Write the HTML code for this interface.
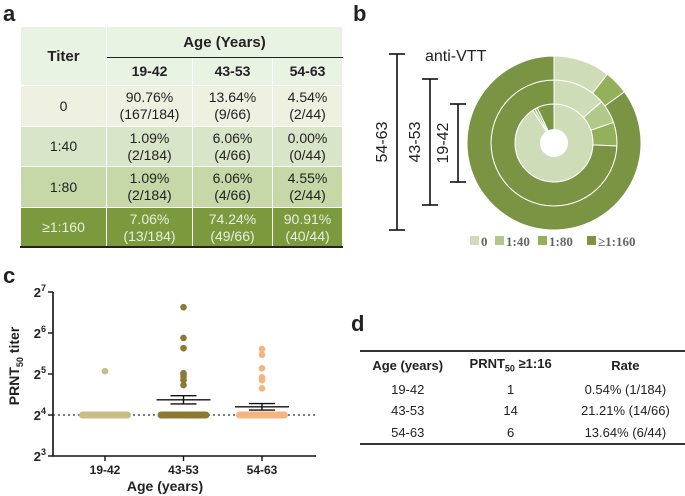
<!DOCTYPE html>
<html><head><meta charset="utf-8">
<style>
body{margin:0;width:685px;height:496px;background:#fff;position:relative;overflow:hidden;font-family:"Liberation Sans",Arial,sans-serif;color:#222}
.lbl{position:absolute;font-weight:bold;font-size:22px;line-height:22px}
table.ta{position:absolute;left:20px;top:26px;width:323px;border-collapse:collapse;font-size:14px;text-align:center}
table.ta td,table.ta th{border:1.5px solid #fff;padding:0;line-height:17px}
table.ta th{background:#e8f3e4;font-weight:bold}
.r0 td{background:#eef0e2}.r1 td{background:#d9e5c9}.r2 td{background:#c6d8a7}.r3 td{background:#7a9a3d;color:#e8eee0}
table.td{position:absolute;left:360px;top:350px;width:325px;border-collapse:collapse;font-size:13px;text-align:center}
</style></head><body>
<div class="lbl" style="left:3px;top:3px">a</div>
<div style="position:absolute;left:20px;top:26px;width:323px;height:2px;background:#222"></div>
<table class="ta">
<tr style="height:31px"><th rowspan="2" style="width:85px;font-size:15px">Titer</th><th colspan="3" style="border-bottom:1.5px solid #222;font-size:15px">Age (Years)</th></tr>
<tr style="height:28px"><th style="width:85px">19-42</th><th style="width:79px">43-53</th><th>54-63</th></tr>
<tr class="r0" style="height:41px"><td>0</td><td>90.76%<br>(167/184)</td><td>13.64%<br>(9/66)</td><td>4.54%<br>(2/44)</td></tr>
<tr class="r1" style="height:40px"><td>1:40</td><td>1.09%<br>(2/184)</td><td>6.06%<br>(4/66)</td><td>0.00%<br>(0/44)</td></tr>
<tr class="r2" style="height:41px"><td>1:80</td><td>1.09%<br>(2/184)</td><td>6.06%<br>(4/66)</td><td>4.55%<br>(2/44)</td></tr>
<tr class="r3" style="height:40px"><td>≥1:160</td><td>7.06%<br>(13/184)</td><td>74.24%<br>(49/66)</td><td>90.91%<br>(40/44)</td></tr>
</table>
<div style="position:absolute;left:20px;top:246px;width:323px;height:2px;background:#222"></div>

<div class="lbl" style="left:353px;top:3px">b</div>
<svg id="pie" width="685" height="496" style="position:absolute;left:0;top:0"></svg>

<div class="lbl" style="left:3px;top:265px">c</div>
<svg id="sc" width="340" height="240" style="position:absolute;left:0;top:256px"></svg>

<div class="lbl" style="left:351px;top:313px">d</div>
<table class="td">
<tr style="height:27px;border-top:2px solid #333"><th>Age (years)</th><th>PRNT<sub style="font-size:9px">50</sub> ≥1:16</th><th>Rate</th></tr>
<tr style="height:22px"><td>19-42</td><td>1</td><td>0.54% (1/184)</td></tr>
<tr style="height:21px"><td>43-53</td><td>14</td><td>21.21% (14/66)</td></tr>
<tr style="height:23px;border-bottom:2px solid #333"><td>54-63</td><td>6</td><td>13.64% (6/44)</td></tr>
</table>

<script>
// ---- panel b data ----
const ringNames=["19-42","43-53","54-63"];
const ringInner=[90.76,13.64,10.5];
const ring140=[1.09,6.06,0];
const ring180=[1.09,6.06,4.5];
const ring160=[7.06,74.24,85];
const legendLabels=["0","1:40","1:80","≥1:160"];
const colors=["#cfdcb8","#b0c98a","#93b05a","#7a9444"];
const NS="http://www.w3.org/2000/svg";
const pie=document.getElementById('pie');
const cx=554,cy=143;
const radii=[[13.5,39],[39,63],[63,87]];
function mk(t,a,p){const e=document.createElementNS(NS,t);for(const k in a)e.setAttribute(k,a[k]);(p||pie).appendChild(e);return e;}
function arc(r0,r1,a0,a1){
 const f=a=>[Math.sin(a*Math.PI/180),-Math.cos(a*Math.PI/180)];
 const [s0,c0]=f(a0),[s1,c1]=f(a1);const lg=(a1-a0)>180?1:0;
 return `M${cx+r1*s0},${cy+r1*c0}A${r1},${r1} 0 ${lg} 1 ${cx+r1*s1},${cy+r1*c1}L${cx+r0*s1},${cy+r0*c1}A${r0},${r0} 0 ${lg} 0 ${cx+r0*s0},${cy+r0*c0}Z`;
}
for(let i=0;i<3;i++){
 const vals=[ringInner[i],ring140[i],ring180[i],ring160[i]];
 const tot=vals.reduce((a,b)=>a+b,0);let a=0;
 vals.forEach((v,j)=>{if(v<=0)return;const a1=a+v/tot*360;
  const p=mk('path',{d:arc(radii[i][0],radii[i][1],a,Math.min(a1,359.99)),fill:colors[j],stroke:'#fff','stroke-width':1});
  
  
  a=a1;});
}
const t=mk('text',{x:425,y:61,'font-size':16,fill:'#222','font-family':'Liberation Sans'});t.textContent='anti-VTT';


const brk=[[458,104,182,448],[430,79,205,420],[397,54,230,387]];
brk.forEach((b,i)=>{
 const g=mk('g',{stroke:'#111','stroke-width':1.6});
 
 
 mk('line',{x1:b[0],y1:b[1],x2:b[0],y2:b[2]},g);
 mk('line',{x1:b[0]-8,y1:b[1],x2:b[0]+8,y2:b[1]},g);
 mk('line',{x1:b[0]-8,y1:b[2],x2:b[0]+8,y2:b[2]},g);
 const tx=mk('text',{x:b[3],y:(b[1]+b[2])/2,'font-size':16,'text-anchor':'middle',transform:`rotate(-90 ${b[3]} ${(b[1]+b[2])/2})`,fill:'#222','font-family':'Liberation Sans'});
 tx.textContent=ringNames[i];
 
 
});
const lx=[470,495,538,587];
legendLabels.forEach((l,i)=>{
 const r=mk('rect',{x:lx[i],y:236,width:9,height:9,fill:colors[i]});
 
 
 const tx=mk('text',{x:lx[i]+11,y:246,'font-size':13,'font-weight':'bold',fill:'#666','font-family':'Liberation Serif'});
 tx.textContent=l;
 
 
});

// ---- panel c data ----
const groups=["19-42","43-53","54-63"];
const groupColors=["#c8bd82","#8c7a32","#f5b57f"];
const outliers1=[5.07];
const outliers2=[6.63,5.88,5.63,5.02,4.98,4.93,4.85,4.73];
const outliers3=[5.61,5.47,5.14,4.92,4.85,4.65];
const means=[4.0,4.37,4.2];
const sems=[0,0.1,0.08];
const yTicks=[3,4,5,6,7];
const baseline=4;
const sc=document.getElementById('sc');
const oy=256;
const X0=53,X1=316;
const yS=v=>(415-oy)-(v-4)*41;
const xS=i=>105+i*78.5;
function mc(t,a){return mk(t,a,sc);}
const ax=mc('path',{d:`M${X0},${yS(7)}V${yS(3)}H${X1}`,stroke:'#111','stroke-width':1.6,fill:'none'});


yTicks.forEach(v=>{
 mc('line',{x1:X0-5,x2:X0,y1:yS(v),y2:yS(v),stroke:'#111','stroke-width':1.4});
 const tx=mc('text',{x:X0-7,y:yS(v)+5,'font-size':13,'font-weight':'bold','text-anchor':'end',fill:'#222'});
 tx.innerHTML='2<tspan dy="-6" font-size="9">'+v+'</tspan>';
 
 
});
const dl=mc('line',{x1:X0,x2:X1,y1:yS(baseline),y2:yS(baseline),stroke:'#333','stroke-width':1.2,'stroke-dasharray':'2,3'});


const outs=[outliers1,outliers2,outliers3];
groups.forEach((g,i)=>{
 const x=xS(i);
 const band=mc('rect',{x:x-26,y:yS(baseline)-3.5,width:52,height:7,rx:3.5,fill:groupColors[i]});
 
 
 outs[i].forEach((v,k)=>{
  const c=mc('circle',{cx:x,cy:yS(v),r:3.3,fill:groupColors[i]});
  
  
 });
 if(i>0){
  const eg=document.createElementNS(NS,'g');eg.setAttribute('stroke','#111');eg.setAttribute('stroke-width','1.4');sc.appendChild(eg);
  
  
  mk('line',{x1:x-27,x2:x+27,y1:yS(means[i]),y2:yS(means[i])},eg);
  mk('line',{x1:x,x2:x,y1:yS(means[i]+sems[i]),y2:yS(means[i]-sems[i])},eg);
  mk('line',{x1:x-13,x2:x+13,y1:yS(means[i]+sems[i]),y2:yS(means[i]+sems[i])},eg);
  mk('line',{x1:x-13,x2:x+13,y1:yS(means[i]-sems[i]),y2:yS(means[i]-sems[i])},eg);
 }
 mc('line',{x1:x,x2:x,y1:yS(3),y2:yS(3)+5,stroke:'#111','stroke-width':1.4});
 const tl=mc('text',{x:x,y:yS(3)+18,'font-size':12,'font-weight':'bold','text-anchor':'middle',fill:'#222'});
 tl.textContent=g;
 
 
});
const xt=mc('text',{x:165,y:235,'font-size':14,'font-weight':'bold','text-anchor':'middle',fill:'#222'});
xt.textContent='Age (years)';


const yt=mc('text',{x:19,y:110,'font-size':14,'font-weight':'bold','text-anchor':'middle',transform:'rotate(-90 19 110)',fill:'#222'});
yt.innerHTML='PRNT<tspan dy="4" font-size="9">50</tspan><tspan dy="-4"> titer</tspan>';


</script>
</body></html>
